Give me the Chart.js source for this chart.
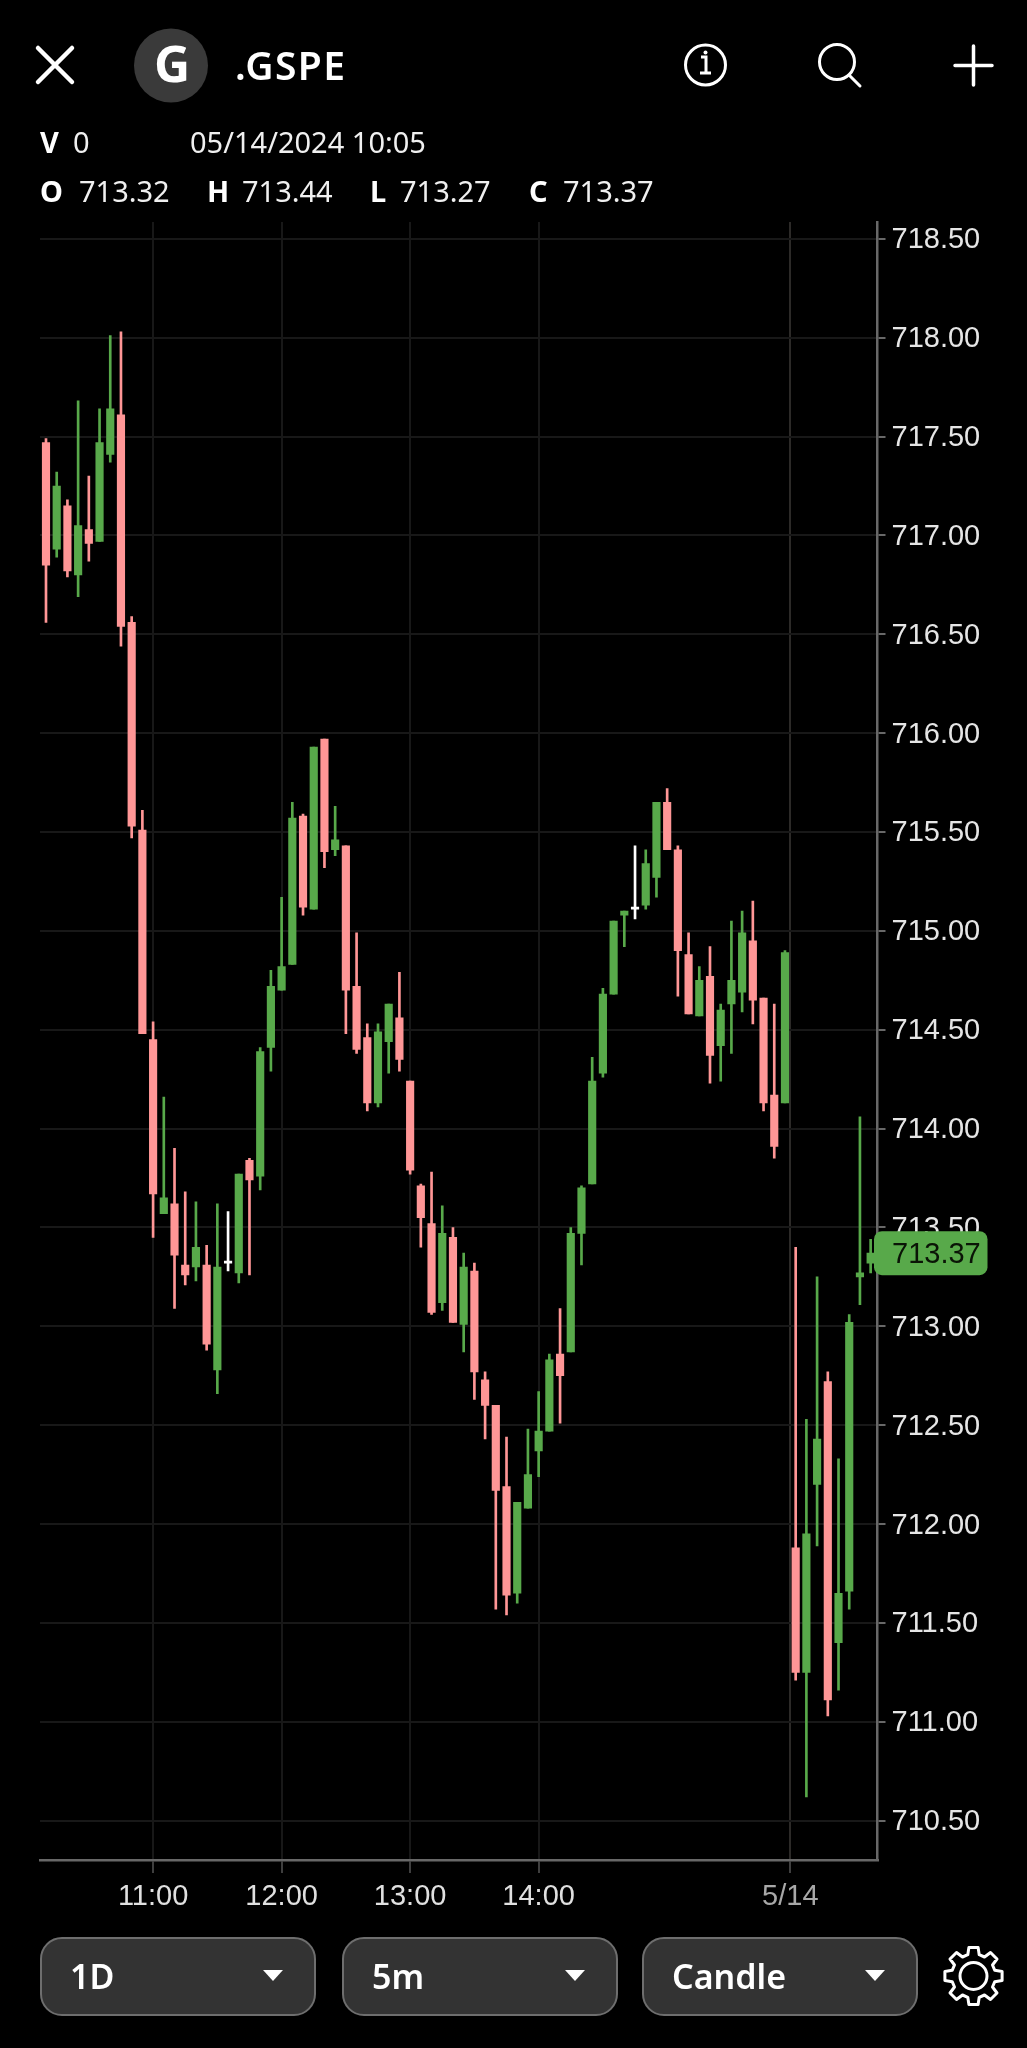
<!DOCTYPE html>
<html>
<head>
<meta charset="utf-8">
<style>
html,body{margin:0;padding:0;background:#000;width:1027px;height:2048px;overflow:hidden;}
canvas{position:absolute;left:0;top:0;}
.t{position:absolute;color:#f0f0f0;font-family:"Noto Sans",sans-serif;white-space:nowrap;line-height:1;}
.b{font-weight:700;color:#fff;}
.btn{position:absolute;top:1937px;height:75px;width:272px;box-sizing:content-box;background:#333;border:2.5px solid #6e6e6e;border-radius:22px;}
.btn span{position:absolute;left:28px;top:20px;font:600 34px/1 "Noto Sans",sans-serif;color:#fff;}
.btn i{position:absolute;right:31px;top:31px;width:0;height:0;border-left:10.5px solid transparent;border-right:10.5px solid transparent;border-top:11px solid #fff;}
svg{position:absolute;left:0;top:0;}
</style>
</head>
<body>
<canvas id="c" width="1027" height="1940"></canvas>
<svg width="1027" height="2048" fill="none" stroke="#fff" stroke-linecap="round">
  <path d="M38 48L72 82M72 48L38 82" stroke-width="4.5"/>
  <circle cx="171" cy="65.5" r="37" fill="#3a3a3a" stroke="none"/>
  <circle cx="705.5" cy="65" r="20" stroke-width="3"/>
  <path d="M701 57h5v15M700 73h11" stroke-width="3" stroke-linecap="butt"/>
  <circle cx="705.5" cy="52.5" r="2" fill="#fff" stroke="none"/>
  <circle cx="837" cy="62" r="17.5" stroke-width="3"/>
  <path d="M849 75L860 86" stroke-width="3"/>
  <path d="M973.5 46V85M955 65.5H992" stroke-width="3.5"/>
  <g id="gear"></g>
</svg>
<div class="t b" style="left:154px;top:38px;font-size:50px;width:34px;text-align:center">G</div>
<div class="t" style="left:235px;top:45px;font-size:39px;font-weight:600;letter-spacing:1.4px;color:#fff">.GSPE</div>
<div class="t b" style="left:40px;top:127px;font-size:29px">V</div>
<div class="t" style="left:73px;top:127px;font-size:29px">0</div>
<div class="t" style="left:190px;top:127px;font-size:29px">05/14/2024 10:05</div>
<div class="t b" style="left:40px;top:176px;font-size:29px">O</div>
<div class="t" style="left:79px;top:176px;font-size:29px">713.32</div>
<div class="t b" style="left:207px;top:176px;font-size:29px">H</div>
<div class="t" style="left:242px;top:176px;font-size:29px">713.44</div>
<div class="t b" style="left:370px;top:176px;font-size:29px">L</div>
<div class="t" style="left:400px;top:176px;font-size:29px">713.27</div>
<div class="t b" style="left:529px;top:176px;font-size:29px">C</div>
<div class="t" style="left:563px;top:176px;font-size:29px">713.37</div>
<div class="btn" style="left:40px"><span>1D</span><i></i></div>
<div class="btn" style="left:342px"><span>5m</span><i></i></div>
<div class="btn" style="left:642px"><span>Candle</span><i></i></div>
<script src="https://cdn.jsdelivr.net/npm/chart.js@4/dist/chart.umd.min.js"></script>
<script>
const opens =[717.47,716.93,717.15,716.80,717.03,716.97,717.41,717.61,716.56,715.51,714.45,713.57,713.62,713.31,713.30,713.31,712.78,713.32,713.27,713.84,
713.76,714.41,714.70,714.83,715.58,715.11,715.97,715.41,715.43,714.72,714.46,714.13,714.44,714.56,714.24,713.71,713.52,713.12,713.45,713.01,
713.28,712.73,712.60,712.19,711.65,712.08,712.37,712.47,712.86,712.87,713.47,713.72,714.28,714.68,715.08,715.11,715.13,715.27,715.65,715.41,
714.88,714.57,714.77,714.42,714.63,714.69,714.95,714.66,714.17,714.13,711.88,711.25,712.20,712.72,711.40,711.66,713.25,713.32];
const highs =[717.49,717.32,717.18,717.68,717.30,717.64,718.01,718.03,716.59,715.61,714.54,714.16,713.90,713.68,713.63,713.41,713.62,713.58,713.77,713.85,
714.41,714.80,715.17,715.65,715.59,715.93,715.97,715.63,715.43,714.99,714.53,714.53,714.63,714.79,714.24,713.72,713.78,713.61,713.50,713.37,
713.32,712.77,712.60,712.44,712.11,712.48,712.67,712.86,713.09,713.50,713.71,714.36,714.71,715.05,715.10,715.43,715.41,715.65,715.72,715.43,
714.99,714.82,714.92,714.63,715.05,715.10,715.15,714.66,714.63,714.90,713.40,712.53,713.25,712.77,712.33,713.06,714.06,713.44];
const lows  =[716.56,716.89,716.79,716.69,716.87,716.97,717.37,716.44,715.47,714.48,713.45,713.57,713.09,713.21,713.23,712.88,712.66,713.28,713.22,713.26,
713.69,714.29,714.70,714.83,715.08,715.11,715.32,715.38,714.48,714.38,714.09,714.11,714.28,714.29,713.77,713.40,713.06,713.08,713.02,712.87,
712.63,712.43,711.57,711.54,711.60,712.08,712.24,712.47,712.51,712.87,713.31,713.72,714.26,714.68,714.92,715.06,715.11,715.17,715.41,714.67,
714.58,714.57,714.23,714.24,714.38,714.59,714.53,714.09,713.85,714.13,711.21,710.62,711.89,711.03,711.16,711.57,713.11,713.27];
const closes=[716.85,717.25,716.82,717.05,716.96,717.47,717.64,716.54,715.53,714.48,713.67,713.65,713.36,713.26,713.40,712.91,713.30,713.32,713.77,713.74,
714.39,714.72,714.82,715.57,715.12,715.93,715.40,715.46,714.70,714.40,714.13,714.49,714.63,714.35,713.79,713.55,713.07,713.47,713.02,713.30,
712.77,712.60,712.17,711.64,712.11,712.25,712.47,712.83,712.75,713.47,713.70,714.24,714.68,715.05,715.10,715.11,715.34,715.65,715.41,714.90,
714.58,714.75,714.37,714.60,714.75,714.99,714.65,714.13,713.91,714.89,711.25,711.95,712.43,711.11,711.65,713.02,713.27,713.37];
const xTickAt    =[10,22,34,46,69.5];
const xTickLabels=["11:00","12:00","13:00","14:00","5/14"];
const yTickValues=[710.5,711,711.5,712,712.5,713,713.5,714,714.5,715,715.5,716,716.5,717,717.5,718,718.5];
const lastPrice  =713.37;

const UP="#58a94a",DOWN="#ff9696",FLAT="#ffffff";
const colourOf=i=>closes[i]>opens[i]?UP:closes[i]<opens[i]?DOWN:FLAT;
const idx=opens.map((_,i)=>i);
const bodies=idx.map(i=>({x:i,y:[Math.min(opens[i],closes[i]),Math.max(opens[i],closes[i])]}));
const wicks =idx.map(i=>({x:i,y:[lows[i],highs[i]]}));
const colours=idx.map(colourOf);
const LABEL='"Liberation Sans",Arial,sans-serif';

const priceTag={id:'priceTag',afterDraw(ch){
  const c=ch.ctx,y=ch.scales.y.getPixelForValue(lastPrice),r=ch.chartArea.right;
  c.save();
  c.fillStyle=UP;c.beginPath();c.roundRect(r-3.5,y-22,113.5,44,8);c.fill();
  c.fillStyle="#0a1406";c.font='29px '+LABEL;c.textAlign='left';c.textBaseline='middle';
  c.fillText(lastPrice.toFixed(2),r+14.5,y+1.5);
  c.restore();
}};

new Chart(document.getElementById('c'),{
  type:'bar',
  data:{datasets:[
    {data:bodies,backgroundColor:colours,barThickness:7.5,minBarLength:2,grouped:false},
    {data:wicks,backgroundColor:colours,barThickness:2,grouped:false}
  ]},
  plugins:[priceTag],
  options:{
    responsive:false,animation:false,
    layout:{padding:{left:40,top:222,right:0,bottom:0}},
    plugins:{legend:{display:false},tooltip:{enabled:false}},
    scales:{
      x:{type:'linear',min:-0.56,max:77.64,offset:false,
        afterBuildTicks(s){s.ticks=xTickAt.map(v=>({value:v}));},
        afterFit(s){s.height=80;},
        border:{color:"#686868",width:2.5},
        grid:{offset:false,color:c=>c.tick&&c.tick.value===69.5?"#2c2a28":"#181818",lineWidth:2,tickLength:13,tickColor:"#555",tickWidth:1.5},
        ticks:{autoSkip:false,maxRotation:0,padding:7,font:{family:LABEL,size:29},
          color:c=>c.tick.value===69.5?"#a8a8a8":"#e0e0e0",
          callback:v=>xTickLabels[xTickAt.indexOf(v)]}
      },
      y:{type:'linear',position:'right',min:710.301,max:718.585,
        afterBuildTicks(s){s.ticks=yTickValues.map(v=>({value:v}));},
        afterFit(s){s.width=149.5;},
        border:{color:"#686868",width:2.5},
        grid:{color:"#181818",lineWidth:2,tickLength:8,tickColor:"#686868",tickWidth:2},
        ticks:{padding:6,labelOffset:1.5,font:{family:LABEL,size:29},color:"#e6e6e6",callback:v=>v.toFixed(2)}
      }
    }
  }
});

(function(){
  const cx=973.5,cy=1976,n=8,R=29,r=22,pts=[];
  for(let i=0;i<n;i++){
    const a=i/n*2*Math.PI-Math.PI/2,w=0.20,g=0.26;
    [[r,a-g],[R,a-w*0.8],[R,a+w*0.8],[r,a+g]].forEach(p=>pts.push((cx+p[0]*Math.cos(p[1])).toFixed(1)+','+(cy+p[0]*Math.sin(p[1])).toFixed(1)));
  }
  document.getElementById('gear').innerHTML='<polygon points="'+pts.join(' ')+'" stroke-width="3" stroke-linejoin="round"/><circle cx="'+cx+'" cy="'+cy+'" r="13.5" stroke-width="3"/>';
})();
</script>
</body>
</html>
